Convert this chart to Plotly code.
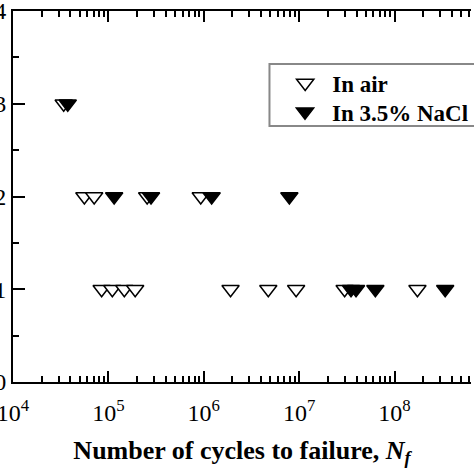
import plotly.graph_objects as go

# Stress levels (y) and cycles to failure (x)
air_cycles = [3.4e4, 5.6e4, 7.1e4, 2.55e5, 9.3e5,
              8.5e4, 1.1e5, 1.47e5, 1.91e5, 1.91e6, 4.75e6, 9.3e6, 3.0e7, 1.74e8]
air_level = [3, 2, 2, 2, 2,
             1, 1, 1, 1, 1, 1, 1, 1, 1]

nacl_cycles = [3.75e4, 1.15e5, 2.8e5, 1.21e6, 7.9e6,
               3.5e7, 3.95e7, 6.3e7, 3.4e8]
nacl_level = [3, 2, 2, 2, 2,
              1, 1, 1, 1]

x_tickvals = [1e4, 1e5, 1e6, 1e7, 1e8, 1e9]
x_ticktext = ["10<sup>4</sup>", "10<sup>5</sup>", "10<sup>6</sup>",
              "10<sup>7</sup>", "10<sup>8</sup>", "10<sup>9</sup>"]
y_tickvals = [0, 1, 2, 3, 4]

FONT = "Liberation Serif"

fig = go.Figure()
fig.add_trace(go.Scatter(
    x=air_cycles, y=air_level, mode="markers", name="<b>In air</b>",
    legend="legend",
    marker=dict(symbol="triangle-down", size=15, color="white",
                line=dict(color="black", width=1.5)),
))
fig.add_trace(go.Scatter(
    x=nacl_cycles, y=nacl_level, mode="markers", name="<b>In 3.5% NaCl</b>",
    legend="legend2",
    marker=dict(symbol="triangle-down", size=15, color="black",
                line=dict(color="black", width=1.5)),
))

legend_common = dict(xanchor="left", yanchor="middle", borderwidth=0,
                     bgcolor="rgba(0,0,0,0)",
                     font=dict(family=FONT, size=23, color="black"),
                     itemwidth=44)

fig.update_layout(
    width=474, height=474,
    margin=dict(l=13, r=0, t=11, b=92),
    paper_bgcolor="white", plot_bgcolor="white",
    font=dict(family=FONT, color="black", size=23),
    showlegend=True,
    legend=dict(x=0.579, y=0.806, **legend_common),
    legend2=dict(x=0.579, y=0.728, **legend_common),
    shapes=[dict(type="rect", xref="paper", yref="paper",
                 x0=0.560, x1=1.2, y0=0.690, y1=0.857,
                 line=dict(color="#888888", width=2), fillcolor="rgba(0,0,0,0)",
                 layer="below")],
    xaxis=dict(
        type="log", range=[4, 4 + 461 / 96], automargin=False,
        tickvals=x_tickvals, ticktext=x_ticktext,
        ticklabeloverflow="allow", ticklabelstandoff=8,
        ticks="inside", ticklen=11, tickwidth=2, tickcolor="black",
        showline=True, linecolor="black", linewidth=2, mirror="ticks",
        showgrid=False, zeroline=False,
        minor=dict(ticks="inside", ticklen=6, tickwidth=1.5, tickcolor="black",
                   dtick="D1", showgrid=False),
        tickfont=dict(family=FONT, size=24),
        title=dict(text="<b>Number of cycles to failure, <i>N</i><sub><i>f</i></sub></b>",
                   font=dict(family=FONT, size=26), standoff=16),
    ),
    yaxis=dict(
        range=[0, 4], tickvals=y_tickvals, automargin=False,
        ticklabeloverflow="allow", ticklabelstandoff=0,
        ticks="inside", ticklen=12, tickwidth=2, tickcolor="black",
        showline=True, linecolor="black", linewidth=2, mirror=False,
        showgrid=False, zeroline=False,
        minor=dict(ticks="inside", ticklen=6, tickwidth=2, tickcolor="black",
                   dtick=0.5, showgrid=False),
        tickfont=dict(family=FONT, size=24),
    ),
)

fig.write_html("out.html", config={"displayModeBar": False},
               post_script="document.body.style.margin='0';document.body.style.overflow='hidden';")
